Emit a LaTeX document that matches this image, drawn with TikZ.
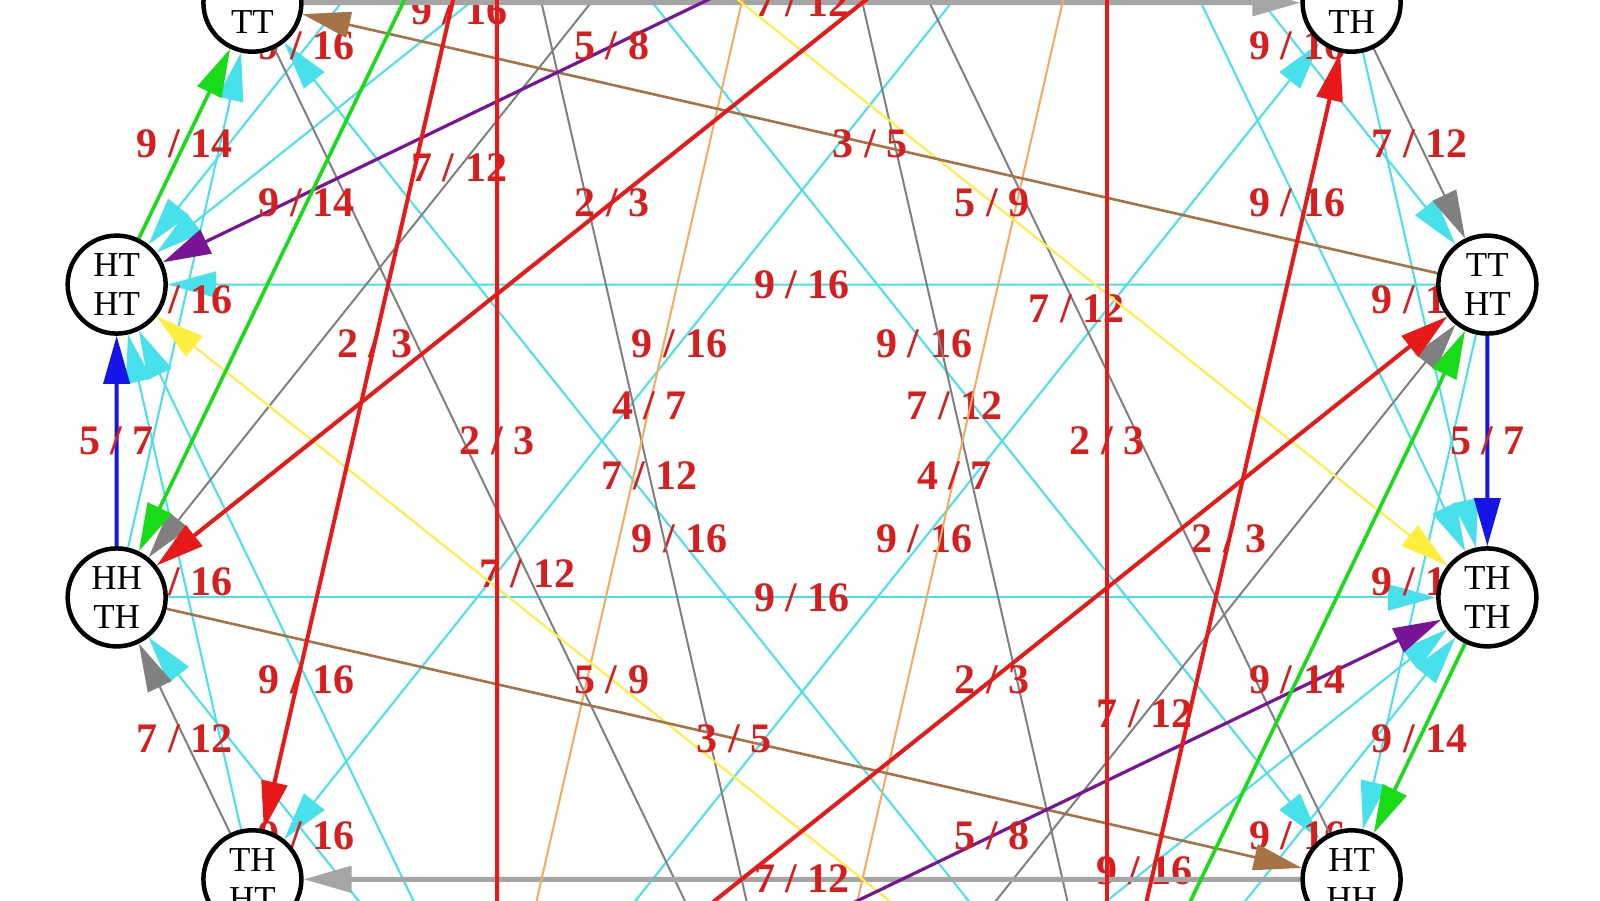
\documentclass[tikz,border=0pt]{standalone}
\usepackage{fontspec}
\setmainfont{Liberation Serif}
\usetikzlibrary{arrows.meta}
\pgfdeclarelayer{edgelayer}
\pgfsetlayers{edgelayer,main}
\definecolor{lblred}{RGB}{215,30,30}
\definecolor{ccyan}{RGB}{70,225,235}
\definecolor{cgray}{RGB}{128,128,128}
\definecolor{chgray}{RGB}{165,165,165}
\definecolor{cyel}{RGB}{255,238,60}
\definecolor{corg}{RGB}{245,170,95}
\definecolor{cbrown}{RGB}{165,115,70}
\definecolor{cgreen}{RGB}{25,220,25}
\definecolor{cblue}{RGB}{20,20,235}
\definecolor{cpurple}{RGB}{120,20,150}
\definecolor{cred}{RGB}{232,25,25}
\newcommand\myedge[4]{\draw[#1] (n#2) -- (n#3); \path (c#2) -- node[lbl]{#4} (c#3);}
\begin{document}
\begin{tikzpicture}[x=0.5pt,y=-0.5pt,
  st/.style={circle,draw=black,line width=2.25pt,fill=white,minimum size=49pt,inner sep=0pt,align=center,font=\fontsize{17.5}{19.5}\selectfont},
  lbl/.style={text=lblred,inner sep=0pt,font=\fontsize{21}{24}\selectfont\bfseries},
  arr/.style={-{Triangle[length=24pt,width=13pt]}},
  ecy/.style={arr,draw=ccyan,line width=1pt},
  egy/.style={arr,draw=cgray,line width=1pt},
  ehz/.style={arr,draw=chgray,line width=2.5pt},
  eor/.style={arr,draw=corg,line width=1pt},
  eye/.style={arr,draw=cyel,line width=1pt},
  ebr/.style={arr,draw=cbrown,line width=1.3pt},
  egr/.style={arr,draw=cgreen,line width=1.8pt},
  ebl/.style={arr,draw=cblue,line width=2pt},
  epu/.style={arr,draw=cpurple,line width=1.6pt},
  ere/.style={arr,draw=cred,line width=2pt}]
\useasboundingbox (0,0) rectangle (1600,900);
\clip (0,0) rectangle (1600,900);
\foreach \k in {0,...,13}
  \coordinate (c\k) at ({802+703*cos(90-360/14*\k)},{441-703*sin(90-360/14*\k)});
\coordinate (n0) at (c0);
\coordinate (n1) at (c1);
\coordinate (n6) at (c6);
\coordinate (n7) at (c7);
\coordinate (n8) at (c8);
\coordinate (n13) at (c13);
\node[st] (n12) at (c12) {HT\\TT};
\node[st] (n2) at (c2) {HT\\TH};
\node[st] (n11) at (c11) {HT\\HT};
\node[st] (n3) at (c3) {TT\\HT};
\node[st] (n10) at (c10) {HH\\TH};
\node[st] (n4) at (c4) {TH\\TH};
\node[st] (n9) at (c9) {TH\\HT};
\node[st] (n5) at (c5) {HT\\HH};
\begin{pgfonlayer}{edgelayer}
\clip (0,0) rectangle (1600,900);
\fill[white] (0,0) rectangle (1600,900);
% cyan 9/16
\myedge{ecy}{0}{11}{9 / 16}
\myedge{ecy}{7}{4}{9 / 16}
\myedge{ecy}{1}{9}{9 / 16}
\myedge{ecy}{8}{2}{9 / 16}
\myedge{ecy}{6}{12}{9 / 16}
\myedge{ecy}{13}{5}{9 / 16}
\myedge{ecy}{3}{11}{9 / 16}
\myedge{ecy}{10}{4}{9 / 16}
\myedge{ecy}{13}{11}{9 / 16}
\myedge{ecy}{6}{4}{9 / 16}
\myedge{ecy}{10}{12}{9 / 16}
\myedge{ecy}{3}{5}{9 / 16}
\myedge{ecy}{9}{11}{9 / 16}
\myedge{ecy}{2}{4}{9 / 16}
\myedge{ecy}{1}{3}{9 / 16}
\myedge{ecy}{8}{10}{9 / 16}
\myedge{ecy}{1}{4}{9 / 16}
\myedge{ecy}{8}{11}{9 / 16}
% gray 7/12
\myedge{egy}{2}{3}{7 / 12}
\myedge{egy}{9}{10}{7 / 12}
\myedge{egy}{0}{10}{7 / 12}
\myedge{egy}{7}{3}{7 / 12}
\myedge{egy}{12}{7}{7 / 12}
\myedge{egy}{5}{0}{7 / 12}
\myedge{egy}{0}{6}{7 / 12}
\myedge{egy}{7}{13}{7 / 12}
\myedge{ehz}{12}{2}{7 / 12}
\myedge{ehz}{5}{9}{7 / 12}
% orange 4/7
\myedge{eor}{0}{8}{4 / 7}
\myedge{eor}{7}{1}{4 / 7}
% yellow 5/9
\myedge{eye}{13}{4}{5 / 9}
\myedge{eye}{6}{11}{5 / 9}
% brown 3/5
\myedge{ebr}{3}{12}{3 / 5}
\myedge{ebr}{10}{5}{3 / 5}
% purple 5/8
\myedge{epu}{1}{11}{5 / 8}
\myedge{epu}{8}{4}{5 / 8}
% green 9/14
\myedge{egr}{11}{12}{9 / 14}
\myedge{egr}{4}{5}{9 / 14}
\myedge{egr}{13}{10}{9 / 14}
\myedge{egr}{6}{3}{9 / 14}
% red 2/3
\myedge{ere}{1}{10}{2 / 3}
\myedge{ere}{8}{3}{2 / 3}
\myedge{ere}{13}{9}{2 / 3}
\myedge{ere}{6}{2}{2 / 3}
\myedge{ere}{13}{8}{2 / 3}
\myedge{ere}{6}{1}{2 / 3}
% blue 5/7
\myedge{ebl}{10}{11}{5 / 7}
\myedge{ebl}{3}{4}{5 / 7}
\end{pgfonlayer}
\end{tikzpicture}
\end{document}
